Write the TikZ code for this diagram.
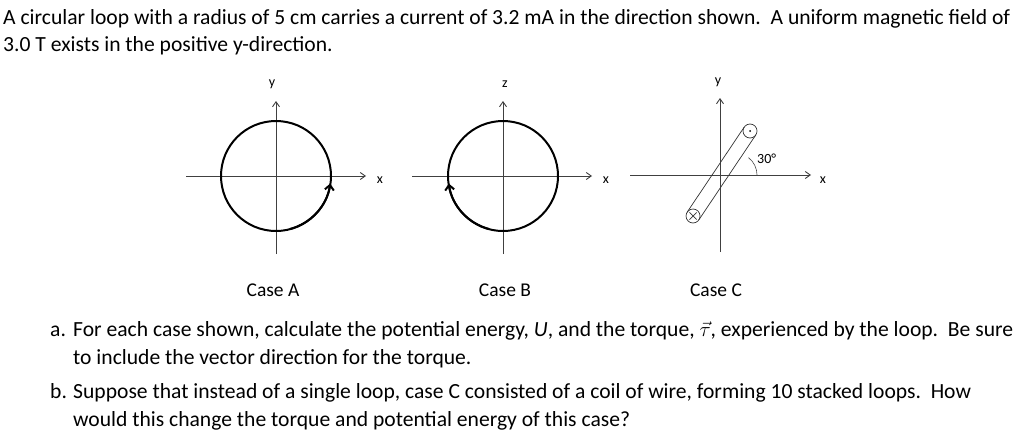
\documentclass[tikz,border=0pt]{standalone}
\usepackage{fontspec}
\setmainfont{Carlito}
\usetikzlibrary{arrows.meta,calc}
\begin{document}
\begin{tikzpicture}[x=1pt,y=-1pt,
  txt/.style={anchor=base west,inner sep=0pt,font=\fontsize{21.6}{24}\selectfont},
  lab/.style={inner sep=0pt,font=\fontsize{14}{16}\selectfont},
  axis/.style={draw=black!75,line width=0.9pt},
  axarr/.style={axis,-{Straight Barb[length=5pt,width=7pt]}},
  loop/.style={draw=black,line width=2pt},
  tube/.style={draw=black!80,line width=0.7pt}]
\useasboundingbox (0,0) rectangle (1024,442);
\node[txt] (l1) at (3,24) {A circular loop with a radius of 5 cm carries a current of 3.2 mA in the direction shown.\ \ A uniform magnetic field of};
\node[txt] (l2) at (3,51) {3.0 T exists in the positive y-direction.};
% Case A
\coordinate (ca) at (276,176);
\draw[axarr] (276,254) -- (276,101);
\draw[axarr] (186,176) -- (366,176);
\node[lab] (ay) at (272,84) {y};
\node[lab] (ax) at (380,180) {x};
\draw[loop] (ca) circle[radius=55];
\draw[loop,-{Straight Barb[length=5pt,width=9pt]}] (290,229) arc[start angle=75,end angle=8,radius=55];
% Case B
\coordinate (cb) at (503,176);
\draw[axarr] (503,254) -- (503,101);
\draw[axarr] (412,176) -- (592,176);
\node[lab] (bz) at (505,84) {z};
\node[lab] (bx) at (606,180) {x};
\draw[loop] (cb) circle[radius=55];
\draw[loop,-{Straight Barb[length=5pt,width=9pt]}] (489,229) arc[start angle=105,end angle=172,radius=55];
% Case C
\draw[axarr] (720,252) -- (720,98);
\draw[axarr] (630,175) -- (811,175);
\node[lab] (cy) at (718,82) {y};
\node[lab] (cx) at (823,180) {x};
\coordinate (t1) at (750,131); \coordinate (t2) at (693,216);
\node[draw=black!80,line width=0.7pt,circle,minimum size=14pt,inner sep=0pt] (top) at (t1) {};
\node[draw=black!80,line width=0.7pt,circle,minimum size=14pt,inner sep=0pt] (bot) at (t2) {};
\fill (t1) circle[radius=1pt];
\draw[tube] ($(t2)+(-45:5)$) -- ($(t2)+(135:5)$) ($(t2)+(45:5)$) -- ($(t2)+(-135:5)$);
\draw[tube] ($(t1)!7pt!90:(t2)$) -- ($(t2)!7pt!-90:(t1)$);
\draw[tube] ($(t1)!7pt!-90:(t2)$) -- ($(t2)!7pt!90:(t1)$);
\draw[draw=black!70,line width=0.6pt] (757,175) arc[start angle=0,end angle=-52,radius=22];
\node[lab,anchor=west] (ang) at (757,159) {30°};
% case labels
\node[txt,anchor=base,font=\fontsize{19.5}{22}\selectfont] (la) at (273,296) {Case A};
\node[txt,anchor=base,font=\fontsize{19.5}{22}\selectfont] (lb) at (505,296) {Case B};
\node[txt,anchor=base,font=\fontsize{19.5}{22}\selectfont] (lc) at (716,296) {Case C};
% questions
\node[txt] (qa) at (50,336) {a.};
\node[txt] (qa1) at (73,336) {For each case shown, calculate the potential energy, \textit{U}, and the torque, $\vec{\tau}$, experienced by the loop.\ \ Be sure};
\node[txt] (qa2) at (73,364) {to include the vector direction for the torque.};
\node[txt] (qb) at (50,398) {b.};
\node[txt] (qb1) at (73,398) {Suppose that instead of a single loop, case C consisted of a coil of wire, forming 10 stacked loops.\ \ How};
\node[txt] (qb2) at (73,426) {would this change the torque and potential energy of this case?};
\end{tikzpicture}
\end{document}
